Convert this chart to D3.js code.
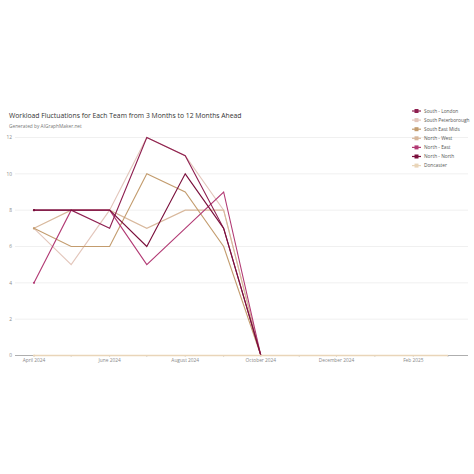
<!DOCTYPE html>
<html>
<head>
<meta charset="utf-8">
<script src="https://cdn.jsdelivr.net/npm/d3@7"></script>
<style>
  body { margin: 0; background: #fff; }
  svg { display: block; font-family: "Open Sans", Lato, sans-serif; }
</style>
</head>
<body>
<div id="chart"></div>
<script>
// data
var months = ["2024-04", "2024-05", "2024-06", "2024-07", "2024-08", "2024-09",
              "2024-10", "2024-11", "2024-12", "2025-01", "2025-02", "2025-03"];
var teams = ["South - London", "South Peterborough", "South East Mids", "North - West",
             "North - East", "North - North", "Doncaster"];
var colours = ["#8e1f50", "#e3c6bb", "#c39c6e", "#d8b89c", "#b23a74", "#7a0f3c", "#e9d5b9"];

var southLondon       = [8, 8, 7, 12, 11, 7, 0, 0, 0, 0, 0, 0];
var southPeterborough = [7, 5, 8, 12, 11, 8, 0, 0, 0, 0, 0, 0];
var southEastMids     = [7, 6, 6, 10, 9, 6, 0, 0, 0, 0, 0, 0];
var northWest         = [7, 8, 8, 7, 8, 8, 0, 0, 0, 0, 0, 0];
var northEast         = [4, 8, 8, 5, 7, 9, 0, 0, 0, 0, 0, 0];
var northNorth        = [8, 8, 8, 6, 10, 7, 0, 0, 0, 0, 0, 0];
var doncaster         = [0, 0, 0, 0, 0, 0, 0, 0, 0, 0, 0, 0];

var yTicks = [0, 2, 4, 6, 8, 10, 12];
var xTickLabels = ["April 2024", "June 2024", "August 2024", "October 2024", "December 2024", "Feb 2025"];

var series = [southLondon, southPeterborough, southEastMids, northWest, northEast, northNorth, doncaster];

var width = 474, height = 474;
var parse = d3.timeParse("%Y-%m");
var dates = months.map(parse);

var svg = d3.select("#chart").append("svg")
    .attr("width", width)
    .attr("height", height);

var x = d3.scaleTime()
    .domain([dates[0], dates[dates.length - 1]])
    .range([34, 448]);

var y = d3.scaleLinear()
    .domain([0, 12])
    .range([355.5, 137.5]);

// title
svg.append("text")
    .attr("x", 9).attr("y", 118)
    .style("font-size", "6.8px")
    .style("fill", "#333")
    .text("Workload Fluctuations for Each Team from 3 Months to 12 Months Ahead");

svg.append("text")
    .attr("x", 9).attr("y", 128)
    .style("font-size", "4.8px")
    .style("fill", "#777")
    .text("Generated by AIGraphMaker.net");

// grid + y labels
var grid = svg.append("g");
grid.selectAll("line").data(yTicks.filter(function(d){ return d > 0; })).enter()
    .append("line")
    .attr("x1", 15).attr("x2", 468)
    .attr("y1", function(d){ return y(d); })
    .attr("y2", function(d){ return y(d); })
    .style("stroke", "#ececec")
    .style("stroke-width", 0.8);

grid.selectAll("text").data(yTicks).enter()
    .append("text")
    .attr("x", 12)
    .attr("y", function(d){ return y(d) + 1.7; })
    .attr("text-anchor", "end")
    .style("font-size", "4.8px")
    .style("fill", "#888")
    .text(function(d){ return d; });

// x axis
var xAxis = svg.append("g");
xAxis.append("line")
    .attr("x1", 15).attr("x2", 468)
    .attr("y1", y(0)).attr("y2", y(0))
    .style("stroke", "#999")
    .style("stroke-width", 0.8);

xAxis.selectAll(".tk").data(dates).enter()
    .append("line")
    .attr("class", "tk")
    .attr("x1", function(d){ return x(d); })
    .attr("x2", function(d){ return x(d); })
    .attr("y1", y(0)).attr("y2", y(0) + 1.5)
    .style("stroke", "#bbb")
    .style("stroke-width", 0.6);

// labels every second month, starting at April
var labelDates = dates.filter(function(d, i){ return i % 2 === 0; });
xAxis.selectAll("text").data(labelDates).enter()
    .append("text")
    .attr("x", function(d){ return x(d); })
    .attr("y", 362)
    .attr("text-anchor", "middle")
    .style("font-size", "4.8px")
    .style("fill", "#888")
    .text(function(d, i){ return xTickLabels[i]; });

// lines, drawn back to front so the dark ones sit on top
var line = d3.line()
    .x(function(d, i){ return x(dates[i]); })
    .y(function(d){ return y(d); });

var order = [1, 3, 2, 4, 0, 5, 6];
var lines = svg.append("g");
order.forEach(function(k) {
  lines.append("path")
      .datum(series[k])
      .attr("d", line)
      .style("fill", "none")
      .style("stroke", colours[k])
      .style("stroke-width", k === 6 ? 1.4 : 1.1)
      .style("stroke-linejoin", "miter");

  lines.append("circle")
      .attr("cx", x(dates[0]))
      .attr("cy", y(series[k][0]))
      .attr("r", 1.1)
      .style("fill", colours[k]);
});

// legend
var legend = svg.append("g").attr("transform", "translate(412,111)");
var item = legend.selectAll("g").data(teams).enter()
    .append("g")
    .attr("transform", function(d, i){ return "translate(0," + (i * 9.1) + ")"; });

item.append("line")
    .attr("x1", 0).attr("x2", 9)
    .attr("y1", 0).attr("y2", 0)
    .style("stroke", function(d, i){ return colours[i]; })
    .style("stroke-width", 1.2);

item.append("rect")
    .attr("x", 2.5).attr("y", -2)
    .attr("width", 4).attr("height", 4)
    .style("fill", function(d, i){ return colours[i]; });

item.append("text")
    .attr("x", 12).attr("y", 1.7)
    .style("font-size", "4.8px")
    .style("fill", "#555")
    .text(function(d){ return d; });
</script>
</body>
</html>
